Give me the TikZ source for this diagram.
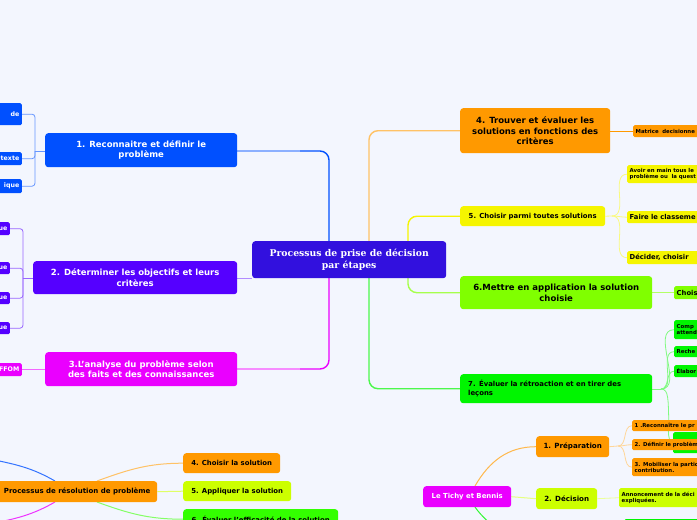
\documentclass[tikz,border=0pt]{standalone}
\usepackage{fontspec}
\setmainfont{DejaVu Sans}
\newfontfamily\titlefont{DejaVu Serif}
\definecolor{paper}{RGB}{243,246,254}
\definecolor{stepcenter}{RGB}{50,16,222}
\definecolor{stepblue}{RGB}{0,80,255}
\definecolor{stepviolet}{RGB}{85,0,255}
\definecolor{stepmagenta}{RGB}{234,0,255}
\definecolor{steporange}{RGB}{255,153,0}
\definecolor{stepyellow}{RGB}{245,245,0}
\definecolor{steplime}{RGB}{128,255,0}
\definecolor{stepgreen}{RGB}{0,245,0}
\definecolor{stepchart}{RGB}{204,255,0}
\definecolor{stepgreenb}{RGB}{51,255,0}
\pgfdeclarelayer{paperlayer}
\pgfdeclarelayer{linklayer}
\pgfsetlayers{paperlayer,linklayer,main}
\begin{document}
\begin{tikzpicture}[x=1pt,y=-1pt,
	topic/.style={rounded corners=3pt, inner sep=2pt, align=center, anchor=north west,
		font=\bfseries\fontsize{8.5}{10.5}\selectfont},
	subtopic/.style={topic, font=\bfseries\fontsize{6.9}{8.5}\selectfont},
	leaf/.style={rounded corners=1.5pt, inner xsep=2.5pt, inner ysep=1pt, align=left,
		anchor=north west, text width=90pt, font=\bfseries\fontsize{5.4}{6.4}\selectfont},
	bigleaf/.style={leaf, font=\bfseries\fontsize{6.8}{8}\selectfont},
	lleaf/.style={leaf, anchor=north east, align=right, text width=44pt,
		font=\bfseries\fontsize{6.3}{7.3}\selectfont},
	link/.style={line width=1.4pt, rounded corners=9pt},
	twig/.style={line width=0.8pt, rounded corners=3pt}]
	\begin{pgfonlayer}{paperlayer}
		\fill[paper] (0,0) rectangle (697,520);
	\end{pgfonlayer}
	\useasboundingbox (0,0) rectangle (697,520);
	% centre
	\node[topic, fill=stepcenter, text=white, minimum width=194pt, minimum height=37pt,
		font=\titlefont\bfseries\fontsize{9.3}{11.5}\selectfont] (c) at (252,241)
		{Processus de prise de décision\\par étapes};
	% left side
	\node[topic, fill=stepblue, text=white, minimum width=192pt, minimum height=34pt] (n1) at (45,133)
		{1. Reconnaitre et définir le\\problème};
	\node[topic, fill=stepviolet, text=white, minimum width=204pt, minimum height=33pt] (n2) at (33,261)
		{2. Déterminer les objectifs et leurs\\critères};
	\node[topic, fill=stepmagenta, text=white, minimum width=192pt, minimum height=34pt] (n3) at (45,352)
		{3.L’analyse du problème selon\\ des faits et des connaissances};
	\node[lleaf, fill=stepblue, text=white, minimum height=22pt] (l11) at (22,103) {de\\[6pt]};
	\node[lleaf, fill=stepblue, text=white, minimum height=13pt] (l12) at (22,152) {texte};
	\node[lleaf, fill=stepblue, text=white, minimum height=14pt] (l13) at (22,179) {ique};
	\node[lleaf, fill=stepviolet, text=white, minimum height=13pt] (l21) at (10,222) {ue};
	\node[lleaf, fill=stepviolet, text=white, minimum height=12pt] (l22) at (10,262) {ue};
	\node[lleaf, fill=stepviolet, text=white, minimum height=12pt] (l23) at (10,292) {ue};
	\node[lleaf, fill=stepviolet, text=white, minimum height=12pt] (l24) at (10,322) {ue};
	\node[lleaf, fill=stepmagenta, text=white, minimum height=13pt] (l31) at (22,363) {FFOM};
	% right side
	\node[topic, fill=steporange, minimum width=150pt, minimum height=45pt] (n4) at (460,108)
		{4. Trouver et évaluer les\\solutions en fonctions des\\critères};
	\node[subtopic, fill=stepyellow, minimum width=145pt, minimum height=20pt] (n5) at (460,206)
		{5. Choisir parmi toutes solutions};
	\node[topic, fill=steplime, minimum width=192pt, minimum height=33pt] (n6) at (460,276)
		{6.Mettre en application la solution\\choisie};
	\node[subtopic, fill=stepgreen, minimum width=192pt, minimum height=29pt, align=left,
		text width=176pt] (n7) at (460,374)
		{7. Évaluer la rétroaction et en tirer des\\leçons};
	\node[leaf, fill=steporange, minimum height=12pt] (l41) at (633,125) {Matrice~~decisionne};
	\node[leaf, fill=stepyellow, minimum height=18pt] (l51) at (627,165)
		{Avoir en main tous le\\problème ou~~la quest};
	\node[bigleaf, fill=stepyellow, minimum height=12pt] (l52) at (627,211) {Faire le classeme};
	\node[bigleaf, fill=stepyellow, minimum height=13pt] (l53) at (627,251) {Décider, choisir};
	\node[bigleaf, fill=steplime, minimum height=13pt] (l61) at (674,286) {Chois};
	\node[leaf, fill=stepgreen, minimum height=19pt] (l71) at (674,320) {Comp\\attend};
	\node[leaf, fill=stepgreen, minimum height=11pt] (l72) at (674,346) {Reche};
	\node[leaf, fill=stepgreen, minimum height=12pt] (l73) at (674,365) {Élabor};
	\node[leaf, fill=stepgreen, minimum height=21pt] (l74) at (673,432) {};
	% Tichy et Bennis
	\node[subtopic, fill=stepmagenta, text=white, minimum width=88pt, minimum height=21pt] (t) at (423,486)
		{Le Tichy et Bennis};
	\node[subtopic, fill=steporange, minimum width=73pt, minimum height=21pt,
		font=\bfseries\fontsize{7.1}{8.5}\selectfont] (p) at (536,436) {1. Préparation};
	\node[subtopic, fill=stepchart, minimum width=61pt, minimum height=21pt,
		font=\bfseries\fontsize{7.1}{8.5}\selectfont] (d) at (536,488) {2. Décision};
	\node[leaf, fill=steporange, minimum height=11pt] (p1) at (632,420) {1 .Reconnaître le pr};
	\node[leaf, fill=steporange, minimum height=11pt] (p2) at (632,439) {2. Définir le problèm};
	\node[leaf, fill=steporange, minimum height=18pt] (p3) at (632,458)
		{3. Mobiliser la partic\\contribution.};
	\node[leaf, fill=stepchart, minimum height=19pt] (d1) at (619,488)
		{Annoncement de la déci\\expliquées.};
	\node[leaf, fill=stepgreen, minimum height=12pt] (d2) at (624,519) {};
	% resolution de probleme
	\node[subtopic, fill=steporange, minimum width=160pt, minimum height=21pt,
		font=\bfseries\fontsize{7}{8.5}\selectfont] (r) at (-3,481)
		{Processus de résolution de problème};
	\node[subtopic, fill=steporange, minimum width=97pt, minimum height=20pt] (s4) at (183,453)
		{4. Choisir la solution};
	\node[subtopic, fill=stepchart, minimum width=108pt, minimum height=20pt] (s5) at (183,481)
		{5. Appliquer la solution};
	\node[subtopic, fill=stepgreenb, minimum width=155pt, minimum height=20pt] (s6) at (183,509)
		{6. Évaluer l’efficacité de la solution};
	% connectors
	\coordinate (k1) at (300,151);
	\coordinate (c1) at (329,241);
	\coordinate (k3) at (300,369);
	\coordinate (c3) at (329,278);
	\coordinate (c4) at (369,241);
	\coordinate (c5) at (408,241);
	\coordinate (c6) at (408,278);
	\coordinate (c7) at (369,278);
	\coordinate (b1) at (35,151);
	\coordinate (b2) at (23,278);
	\coordinate (b5) at (612,216);
	\coordinate (b7) at (661,389);
	\coordinate (bp) at (618,446);
	\coordinate (t1) at (475,486);
	\coordinate (t2) at (475,507);
	\coordinate (t3) at (498,532);
	\coordinate (r1) at (55,481);
	\coordinate (r2) at (55,502);
	\coordinate (r3) at (97,481);
	\coordinate (r4) at (97,502);
	\coordinate (o1) at (-20,457);
	\coordinate (o2) at (-20,526);
	\begin{pgfonlayer}{linklayer}
		\draw[link, stepblue!45] (n1.east |- k1) -- (k1);
		\draw[link, stepblue] (k1) -| (c1);
		\draw[link, stepviolet!45] (n2.east |- c.south west) -- (c.south west);
		\draw[link, stepmagenta!45] (n3.east |- k3) -- (k3);
		\draw[link, stepmagenta] (k3) -| (c3);
		\draw[link, steporange!60] (c4) |- (n4.west);
		\draw[link, stepyellow] (c5) |- (n5.west);
		\draw[link, steplime!70] (c6) |- (n6.west);
		\draw[link, stepgreen!70] (c7) |- (n7.west);
		\draw[twig, stepblue!60] (n1.west |- b1) -- (b1);
		\foreach \l in {l11,l12,l13}
			\draw[twig, stepblue!60] (b1) |- (\l.east);
		\draw[twig, stepviolet!60] (n2.west |- b2) -- (b2);
		\foreach \l in {l21,l22,l23,l24}
			\draw[twig, stepviolet!60] (b2) |- (\l.east);
		\draw[twig, stepmagenta!60] (n3.west |- l31.east) -- (l31.east);
		\draw[twig, steporange] (n4.east |- l41.west) -- (l41.west);
		\draw[twig, stepyellow!50] (n5.east) -- (b5);
		\foreach \l in {l51,l52,l53}
			\draw[twig, stepyellow!50] (b5) to[out=0,in=180] (\l.west);
		\draw[twig, steplime!60] (n6.east |- l61.west) -- (l61.west);
		\draw[twig, stepgreen!50] (n7.east |- b7) -- (b7);
		\foreach \l in {l71,l72,l73}
			\draw[twig, stepgreen!50] (b7) to[out=0,in=180] (\l.west);
		\draw[twig, stepgreen!50] (b7) .. controls (669,389) and (668,400) .. (669,425) to[out=90,in=180] (l74.west);
		\draw[link, line width=1pt, steporange!70] (t1) to[out=60,in=180] (p.west);
		\draw[link, line width=1pt, stepchart!50] (t.east) -- (d.west);
		\draw[link, line width=1pt, stepgreen!80] (t2) to[out=-55,in=130] (t3);
		\draw[twig, steporange!40] (p.east) -- (bp);
		\foreach \l in {p1,p2,p3}
			\draw[twig, steporange!40] (bp) to[out=0,in=180] (\l.west);
		\draw[twig, stepchart!40] (d.east) -- (d1.west);
		\draw[link, line width=1pt, stepblue!80] (o1) to[out=-12,in=150] (r1);
		\draw[link, line width=1pt, stepmagenta!80] (o2) to[out=12,in=-150] (r2);
		\draw[link, line width=1pt, steporange!60] (r3) to[out=20,in=180] (s4.west);
		\draw[link, line width=1pt, stepchart!60] (r.east) -- (s5.west);
		\draw[link, line width=1pt, stepgreenb!60] (r4) to[out=-20,in=180] (s6.west);
	\end{pgfonlayer}
\end{tikzpicture}
\end{document}
